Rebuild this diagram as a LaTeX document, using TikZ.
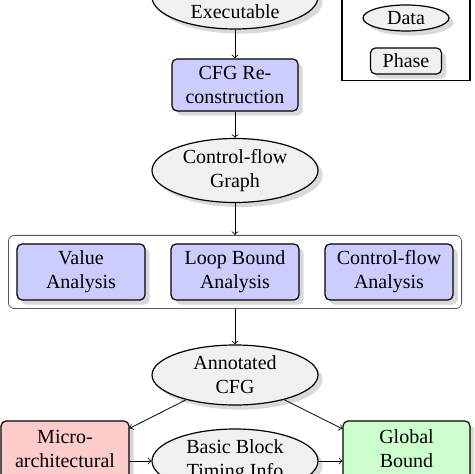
\documentclass[tikz,border=0pt]{standalone}
\usepackage{fontspec}
\setmainfont{Liberation Serif}
\usetikzlibrary{shapes.geometric, arrows, positioning, shadows, backgrounds, fit}

\begin{document}
\begin{tikzpicture}[x=1pt, y=1pt,
  datanode/.style={ellipse, draw, line width=0.6pt, fill=gray!12, inner sep=0pt, minimum width=83pt, minimum height=32pt, align=center, drop shadow={opacity=0.3}},
  phasenode/.style={rectangle, rounded corners=2.5pt, draw, line width=0.6pt, fill=blue!20, inner sep=0pt, minimum width=64pt, minimum height=28pt, align=center, drop shadow={opacity=0.3}}]
\useasboundingbox (0,0) rectangle (237,-237);
\clip (0,0) rectangle (237,-237);

% Main flow
\node[datanode, label={[yshift=-7.5pt]center:Executable}] (exec) at (117.5,1.5) {};
\node[phasenode, minimum width=63pt, minimum height=26pt] (cfgrec) at (117.5,-42.5) {CFG Re-\\construction};
\node[datanode] (cfg) at (117.5,-85.25) {Control-flow\\Graph};

% Analyses
\node[phasenode] (value) at (40.5,-136) {Value\\Analysis};
\node[phasenode] (loop) at (117.5,-136) {Loop Bound\\Analysis};
\node[phasenode] (cflow) at (194.5,-136) {Control-flow\\Analysis};
\begin{scope}[on background layer]
\node[draw=gray!70!black, rounded corners=3pt, fill=white, inner sep=4pt, fit=(value)(loop)(cflow)] (analyses) {};
\end{scope}

\node[datanode, minimum height=30pt] (acfg) at (117.5,-187.5) {Annotated\\CFG};

% Bottom row
\node[phasenode, fill=red!20, minimum height=40pt] (micro) at (32.5,-230.5) {Micro-\\architectural\\\mbox{}};
\node[datanode] (bbti) at (117.5,-230.5) {Basic Block\\Timing Info};
\node[phasenode, fill=green!20, minimum width=63.5pt, minimum height=40pt] (global) at (203.25,-230.5) {Global\\Bound\\\mbox{}};

% Legend
\node[datanode, minimum width=43pt, minimum height=13pt] (legdata) at (203,-9) {Data};
\node[phasenode, fill=gray!12, minimum width=35.5pt, minimum height=13pt] (legphase) at (203,-30.5) {Phase};
\node[draw, line width=0.6pt, minimum width=64pt, minimum height=60pt, anchor=south] (legend) at (203,-40.5) {};

% Connectors
\draw[->] (exec) -- (cfgrec);
\draw[->] (cfgrec) -- (cfg);
\draw[->] (cfg) -- (analyses);
\draw[->] (analyses) -- (acfg);
\draw[->] (acfg) -- (micro);
\draw[->] (acfg) -- (global);
\draw[->] (micro) -- (bbti);
\draw[->] (bbti) -- (global);
\end{tikzpicture}
\end{document}
